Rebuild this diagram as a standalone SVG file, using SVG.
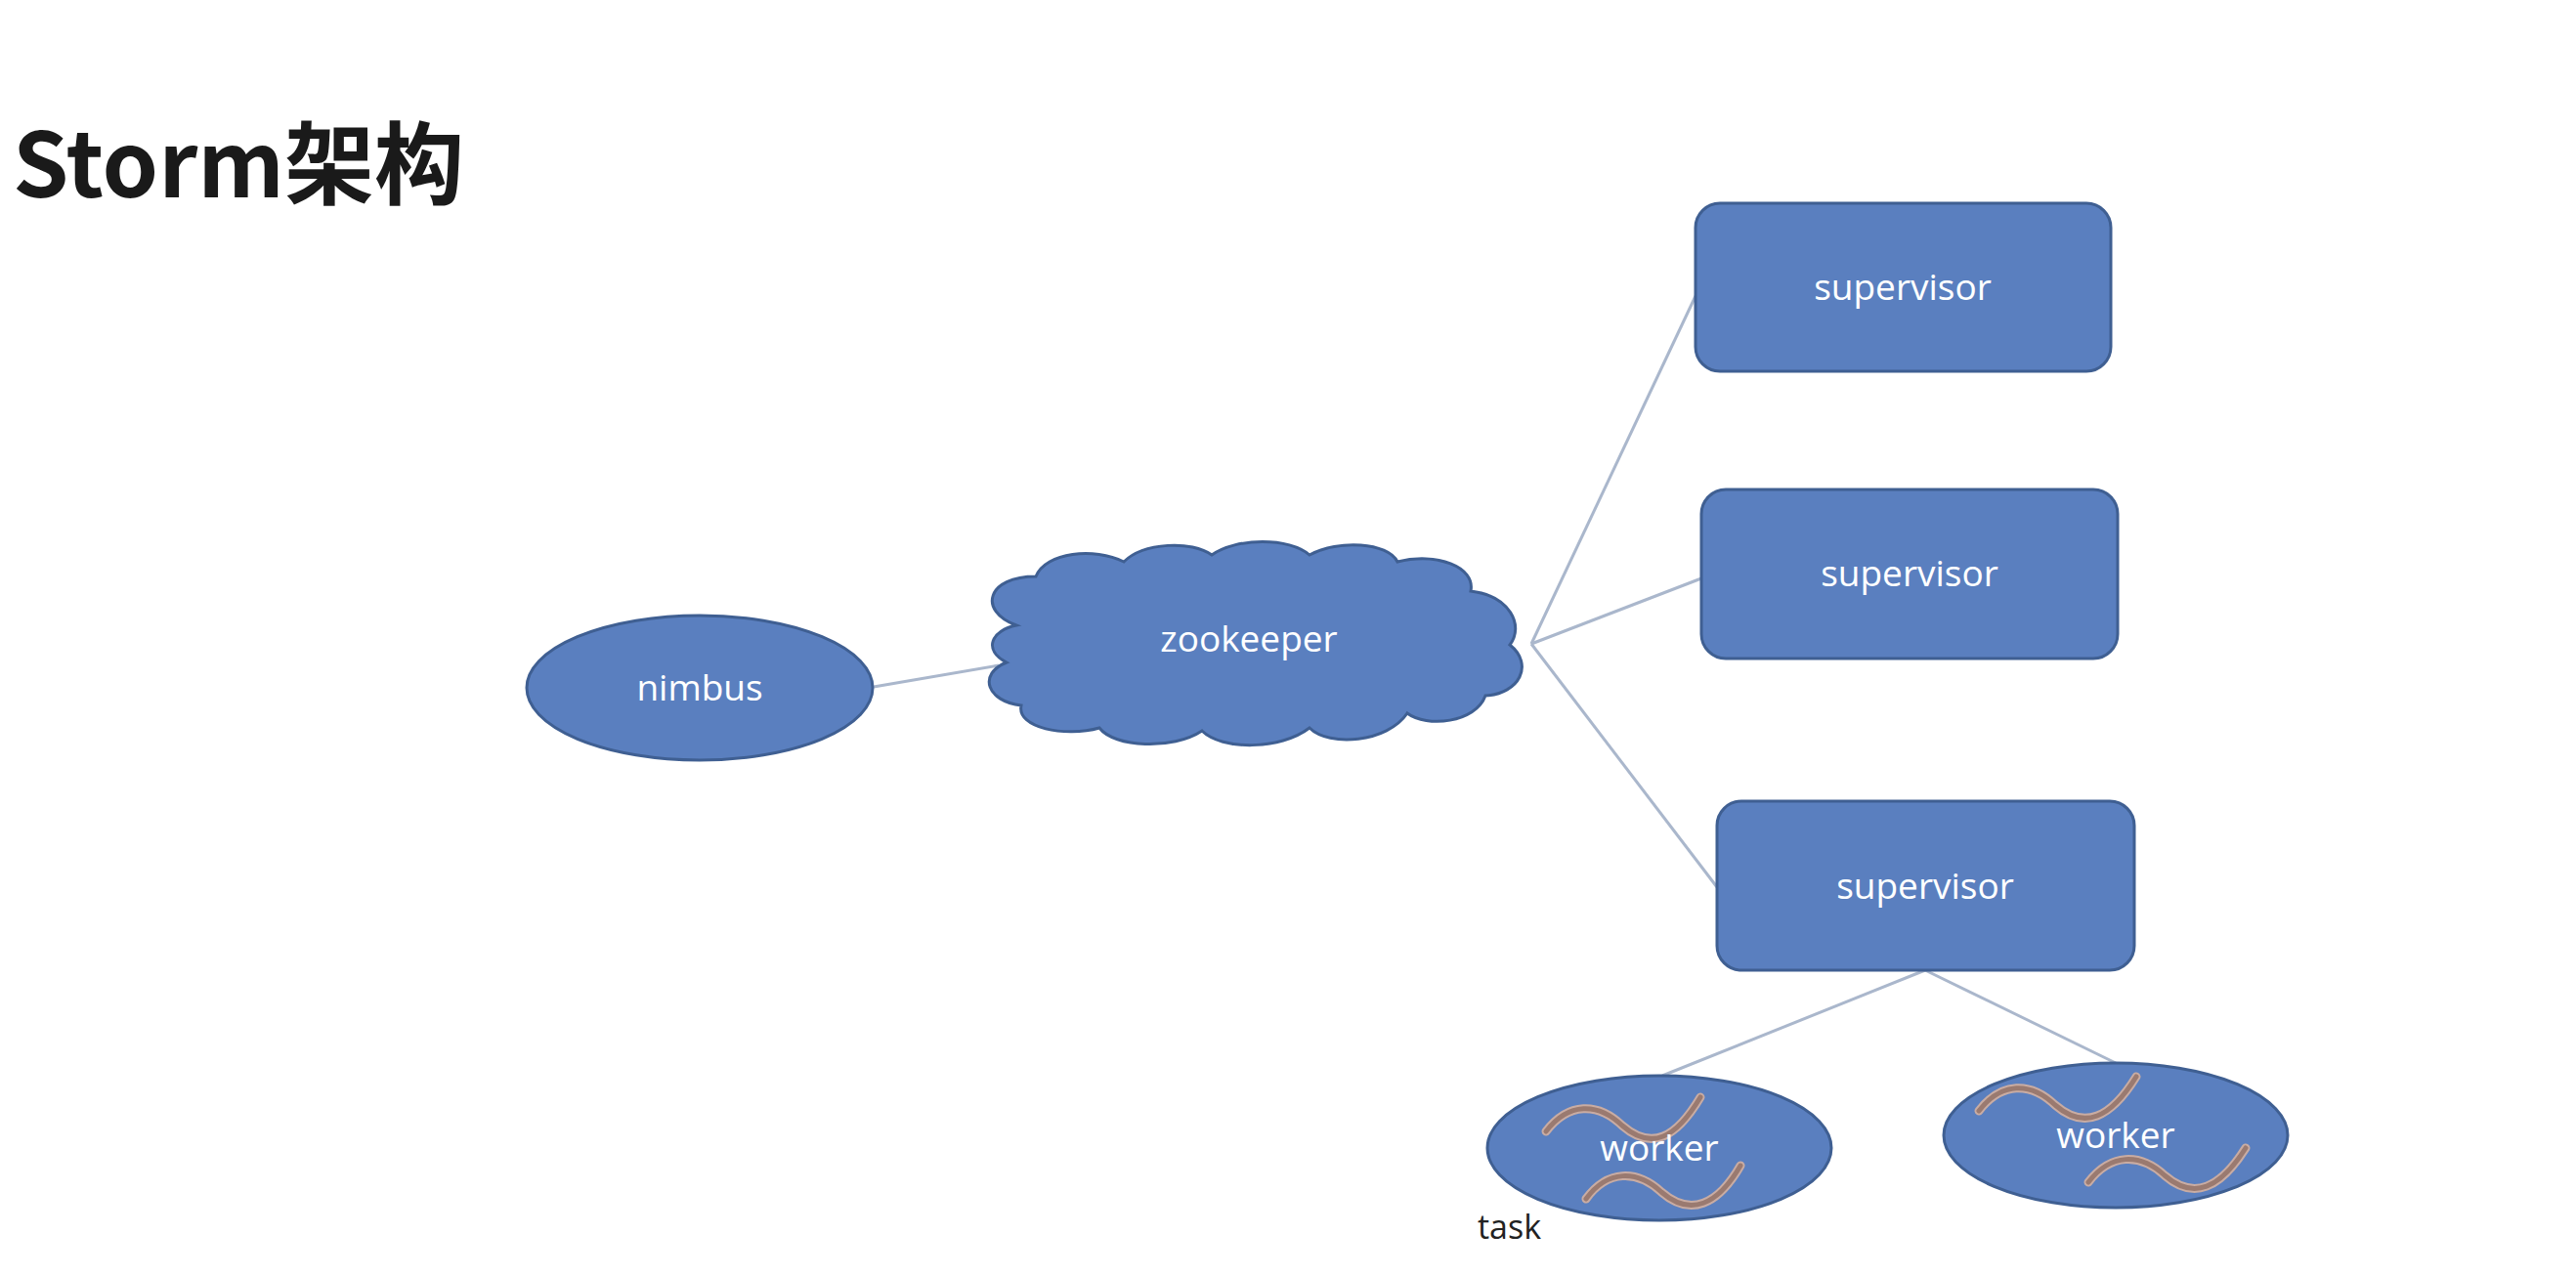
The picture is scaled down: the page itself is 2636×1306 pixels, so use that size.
<svg xmlns="http://www.w3.org/2000/svg" width="2636" height="1306" viewBox="0 0 2636 1306">
<style>
.n{fill:#5a7fbf;stroke:#3f5f92;stroke-width:3}
.t{font-family:"Open Sans","Liberation Sans",sans-serif;font-size:37px;fill:#fff;text-anchor:middle}
.c{stroke:#aab7cc;stroke-width:3;fill:none}
.w{fill:none;stroke:#c9aca3;stroke-width:9;stroke-linecap:round}
.w2{fill:none;stroke:#9a7a70;stroke-width:5;stroke-linecap:round}
</style>
<rect width="2636" height="1306" fill="#fff"/>
<text x="13" y="202" font-family="'Noto Sans CJK SC','Liberation Sans',sans-serif" font-weight="bold" font-size="92" fill="#1a1a1a">Storm架构</text>
<g id="connectors">
<line class="c" x1="894" y1="703" x2="1022" y2="681"/>
<line class="c" x1="1567" y1="659" x2="1735" y2="303"/>
<line class="c" x1="1567" y1="659" x2="1741" y2="592"/>
<line class="c" x1="1567" y1="659" x2="1757" y2="908"/>
<line class="c" x1="1970" y1="993" x2="1701" y2="1101"/>
<line class="c" x1="1970" y1="993" x2="2165" y2="1088"/>
</g>
<g id="nimbus"><ellipse class="n" cx="716" cy="704" rx="177" ry="74"/><text class="t" x="716" y="717">nimbus</text></g>
<g id="zookeeper">
<path class="n" d="M1040,640 C1000,625 1010,590 1060,590 C1070,565 1120,560 1150,575 C1170,555 1220,553 1240,568 C1265,550 1320,550 1340,568 C1370,552 1420,555 1430,575 C1470,565 1510,580 1505,605 C1545,610 1560,640 1545,660 C1570,680 1555,710 1520,712 C1510,740 1460,745 1440,730 C1420,760 1360,765 1340,745 C1310,768 1250,768 1230,748 C1200,768 1140,765 1125,745 C1090,755 1040,745 1045,722 C1010,718 1000,690 1030,678 C1005,665 1015,645 1040,640 Z"/>
<text class="t" x="1278" y="667">zookeeper</text></g>
<g id="supervisor1"><rect class="n" x="1735" y="208" width="425" height="172" rx="25"/><text class="t" x="1947" y="307">supervisor</text></g>
<g id="supervisor2"><rect class="n" x="1741" y="501" width="426" height="173" rx="25"/><text class="t" x="1954" y="600">supervisor</text></g>
<g id="supervisor3"><rect class="n" x="1757" y="820" width="427" height="173" rx="25"/><text class="t" x="1970" y="920">supervisor</text></g>
<g id="worker1"><ellipse class="n" cx="1698" cy="1175" rx="176" ry="74"/>
<path class="w" d="M1582,1158 C1605,1128 1635,1128 1660,1152 C1690,1178 1715,1165 1740,1123"/>
<path class="w2" d="M1582,1158 C1605,1128 1635,1128 1660,1152 C1690,1178 1715,1165 1740,1123"/>
<path class="w" d="M1623,1227 C1645,1197 1675,1197 1700,1220 C1730,1246 1758,1233 1781,1193"/>
<path class="w2" d="M1623,1227 C1645,1197 1675,1197 1700,1220 C1730,1246 1758,1233 1781,1193"/>
<text class="t" x="1698" y="1188">worker</text></g>
<g id="worker2"><ellipse class="n" cx="2165" cy="1162" rx="176" ry="74"/>
<path class="w" d="M2025,1137 C2048,1107 2078,1107 2103,1131 C2133,1157 2160,1144 2186,1102"/>
<path class="w2" d="M2025,1137 C2048,1107 2078,1107 2103,1131 C2133,1157 2160,1144 2186,1102"/>
<path class="w" d="M2137,1210 C2160,1180 2190,1180 2215,1203 C2245,1229 2272,1216 2298,1175"/>
<path class="w2" d="M2137,1210 C2160,1180 2190,1180 2215,1203 C2245,1229 2272,1216 2298,1175"/>
<text class="t" x="2165" y="1175">worker</text></g>
<text x="1512" y="1268" font-family="'Open Sans','Liberation Sans',sans-serif" font-size="34" fill="#222">task</text>
</svg>
